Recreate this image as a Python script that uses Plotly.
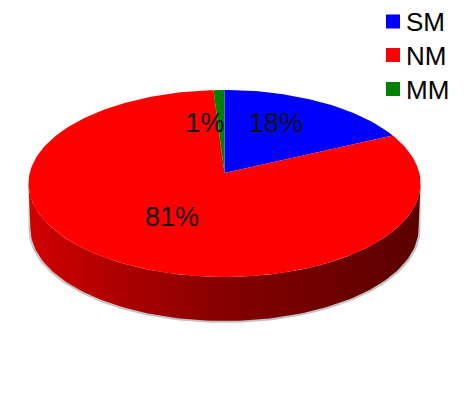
import numpy as np
import plotly.graph_objects as go

# data
categories = ["SM", "NM", "MM"]
shares = [18, 81, 1]
colors = ["#0000ff", "#ff0000", "#008000"]
pct_labels = ["18%", "81%", "1%"]

# pie geometry, in page pixels
CX, CY = 224.5, 173
A, B, K = 194.8, 92.3, 0.112
DEPTH = 45
W, H = 474, 412


def rim(theta, scale=1.0, dy=0):
    # circle seen in perspective, theta clockwise from 12 o'clock
    d = 1 + K * np.cos(theta)
    x = CX + scale * A * np.sin(theta) / d
    y = CY - scale * B * np.cos(theta) / d + dy
    return x, y


fig = go.Figure()

# side of the pie, only the front part shows
t0 = np.arccos(-K)
front = np.linspace(t0, 2 * np.pi - t0, 120)
x_top, y_top = rim(front)
x_low, y_low = rim(front, 0.99, DEPTH)
x_sh, y_sh = rim(front, 1.0, DEPTH + 1)

fig.add_trace(go.Scatter(
    x=np.r_[x_top, x_sh[::-1]], y=np.r_[y_top, y_sh[::-1]],
    fill="toself", fillcolor="#c4c4c4", mode="lines", line=dict(width=0),
    hoverinfo="skip",
))
fig.add_trace(go.Scatter(
    x=np.r_[x_top, x_low[::-1]], y=np.r_[y_top, y_low[::-1]],
    mode="lines", line=dict(width=0), fill="toself",
    fillgradient=dict(
        type="horizontal",
        colorscale=[[0, "#d00000"], [0.5, "#850000"], [1, "#5a0000"]],
    ),
    hoverinfo="skip",
))

# top face, one wedge per category
edges = np.cumsum([0] + shares) / sum(shares) * 2 * np.pi
for i, name in enumerate(categories):
    t = np.linspace(edges[i], edges[i + 1], max(3, shares[i] * 3))
    x, y = rim(t)
    fig.add_trace(go.Scatter(
        x=np.r_[CX, x, CX], y=np.r_[CY, y, CY],
        fill="toself", fillcolor=colors[i], mode="lines", line=dict(width=0),
        name=name, hoverinfo="skip",
    ))

# percent labels
fig.add_trace(go.Scatter(
    x=[276, 172, 205], y=[125, 219, 125], text=pct_labels,
    mode="text", textposition="middle center",
    textfont=dict(family="Liberation Sans", size=27, color="#111111"),
    hoverinfo="skip",
))

# legend
fig.add_trace(go.Scatter(
    x=[393, 393, 393], y=[21.5, 55, 89], mode="markers",
    marker=dict(symbol="square", size=14, color=colors, line=dict(width=0)),
    hoverinfo="skip",
))
fig.add_trace(go.Scatter(
    x=[406, 406, 406], y=[24, 58, 92], text=categories,
    mode="text", textposition="middle right",
    textfont=dict(family="Liberation Sans", size=26, color="#000000"),
    hoverinfo="skip",
))

fig.update_xaxes(range=[0, W], visible=False, fixedrange=True)
fig.update_yaxes(range=[H, 0], visible=False, fixedrange=True)
fig.update_layout(
    width=W, height=H, margin=dict(l=0, r=0, t=0, b=0),
    showlegend=False, paper_bgcolor="white", plot_bgcolor="white",
)

fig.write_html("out.html", config={"displayModeBar": False},
               post_script="document.body.style.margin='0';")
